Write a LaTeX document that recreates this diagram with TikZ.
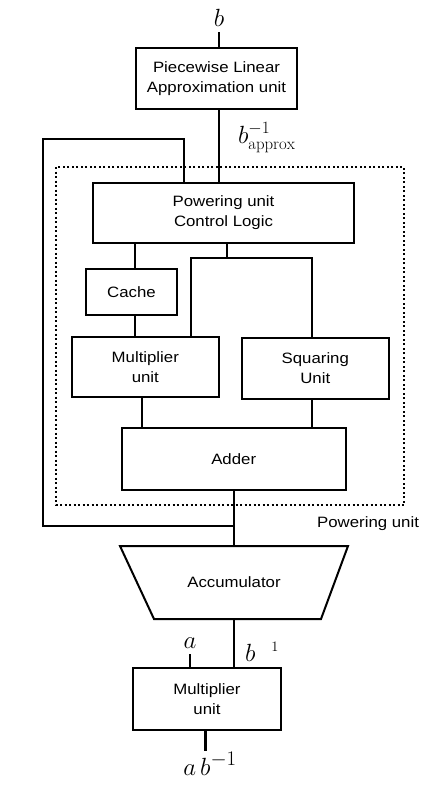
\documentclass[tikz,border=0pt]{standalone}
\usepackage{fontspec}
\newfontfamily\unitfont[FakeStretch=1.12]{Liberation Sans}
\begin{document}
\begin{tikzpicture}[x=1pt, y=-1pt,
        every node/.style={inner sep=0pt},
        unit/.style={draw, line width=2pt, align=center, font=\unitfont\fontsize{15}{20}\selectfont},
        wire/.style={line width=1.3pt},
        bus/.style={line width=2pt},
        sig/.style={outer sep=6pt, anchor=base, font=\fontsize{24}{26}\selectfont},
        bigsig/.style={sig, font=\fontsize{28}{30}\selectfont}]
        \useasboundingbox (0,0) rectangle (445,788);

        % Define Nodes
        \node[sig] (b) at (219,26) {$b$};
        \node[unit, minimum width=161, minimum height=61] (pla) at (216.5,78.5) {Piecewise Linear\\Approximation unit};
        \node[sig, anchor=base west] (bapprox) at (232,143) {$b^{-1}_{\mathrm{approx}}$};
        \node[unit, minimum width=261, minimum height=60] (ctrl) at (223.5,213) {Powering unit\\Control Logic};
        \node[unit, minimum width=91, minimum height=46] (cache) at (131.5,292) {Cache};
        \node[unit, minimum width=147, minimum height=60] (mul) at (145.3,367) {Multiplier\\unit};
        \node[unit, minimum width=147, minimum height=61] (sq) at (315.3,368.5) {Squaring\\Unit};
        \node[unit, minimum width=224, minimum height=62] (adder) at (233.7,459) {Adder};
        \node[anchor=west, font=\unitfont\fontsize{15}{20}\selectfont] (pulabel) at (317,524) {Powering unit};
        \node[unit, draw=none, minimum width=226, minimum height=71] (acc) at (234,582.5) {Accumulator};
        \node[bigsig] (a) at (190,648) {$a$};
        \node[bigsig, anchor=base west] (binv) at (239,661) {$b^{\phantom{-}\scriptscriptstyle 1}$};
        \node[unit, minimum width=148, minimum height=62] (mul2) at (207,699) {Multiplier\\unit};
        \node[bigsig] (out) at (210,775) {$a\,b^{-1}$};
        \coordinate (fb) at (234,526);
        \coordinate (split) at (227,258);
        \coordinate (outend) at (205,751);

        % Accumulator outline
        \draw[line width=2pt, line join=miter] (acc.north west) -- (acc.north east)
            -- ([xshift=-27pt]acc.south east) -- ([xshift=34pt]acc.south west) -- cycle;

        % Draw Edges
        \draw[wire] (b.south) -- (b.south |- pla.north);
        \draw[wire] (pla.south -| 219,0) -- (ctrl.north -| 219,0);
        \draw[bus] (fb) -- (43,526) -- (43,139) -- (184,139) -- (ctrl.north -| 184,0);
        \draw[wire] (ctrl.south -| 135,0) -- (cache.north -| 135,0);
        \draw[wire] (cache.south -| 135,0) -- (mul.north -| 135,0);
        \draw[wire] (ctrl.south -| split) -- (split);
        \draw[wire] (mul.north -| 191,0) -- (191,258) -- (312,258) -- (sq.north -| 312,0);
        \draw[wire] (mul.south -| 142,0) -- (adder.north -| 142,0);
        \draw[wire] (sq.south -| 312,0) -- (adder.north -| 312,0);
        \draw[wire] (adder.south -| fb) -- (acc.north -| fb);
        \draw[wire] (acc.south -| fb) -- (mul2.north -| fb);
        \draw[wire] (a.south) -- (a.south |- mul2.north);
        \draw[line width=3pt] (mul2.south -| outend) -- (outend);

        % Powering unit boundary
        \draw[line width=2pt, dash pattern=on 2pt off 2.5pt] (56,167) rectangle (404,505);
\end{tikzpicture}
\end{document}
